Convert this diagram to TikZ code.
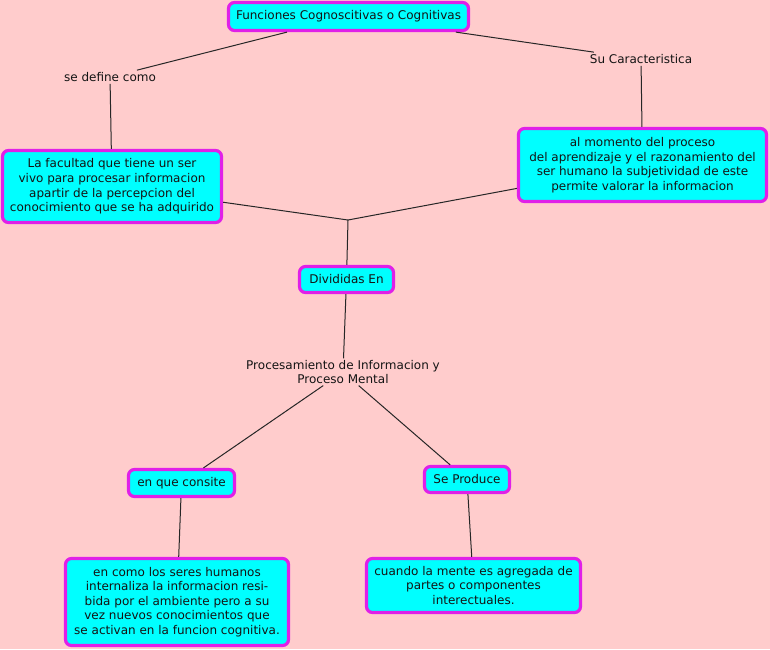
\documentclass[tikz,border=0pt]{standalone}
\usepackage{fontspec}
\setmainfont{DejaVu Sans}
\definecolor{bgpink}{RGB}{255,204,204}
\definecolor{boxfill}{RGB}{0,255,255}
\definecolor{boxedge}{RGB}{224,32,232}
\definecolor{txt}{RGB}{20,20,20}
\begin{document}
\begin{tikzpicture}[x=1pt,y=-1pt,
  box/.style={draw=boxedge,fill=boxfill,line width=3.2pt,rounded corners=6pt,
    align=center,inner sep=0pt,text=txt,font=\fontsize{12}{14.6}\selectfont},
  lbl/.style={align=center,inner sep=2pt,text=txt,font=\fontsize{12}{13.5}\selectfont},
  conn/.style={draw=black!85,line width=1pt}]
\fill[bgpink] (0,0) rectangle (770,649);
\useasboundingbox (0,0) rectangle (770,649);

\node[box,minimum width=240pt,minimum height=28pt] (title) at (348.5,16.5) {Funciones Cognoscitivas o Cognitivas};
\node[lbl] (def) at (110,77) {se define como};
\node[lbl] (car) at (641,59) {Su Caracteristica};
\node[box,minimum width=219pt,minimum height=72pt] (left) at (112,186.5)
  {La facultad que tiene un ser\\vivo para procesar informacion\\apartir de la percepcion del\\conocimiento que se ha adquirido};
\node[box,minimum width=248pt,minimum height=73pt] (right) at (642.5,165)
  {al momento del proceso\\del aprendizaje y el razonamiento del\\ser humano la subjetividad de este\\permite valorar la informacion};
\coordinate (j) at (348,220);
\node[box,minimum width=94pt,minimum height=26pt] (div) at (346.5,279.5) {Divididas En};
\node[lbl] (proc) at (343,372) {Procesamiento de Informacion y\\Proceso Mental};
\node[box,minimum width=106pt,minimum height=27pt] (cons) at (181.5,483) {en que consite};
\node[box,minimum width=85pt,minimum height=26pt] (prod) at (467,479.5) {Se Produce};
\node[box,minimum width=223pt,minimum height=87pt] (bl) at (177,602)
  {en como los seres humanos\\internaliza la informacion resi-\\bida por el ambiente pero a su\\vez nuevos conocimientos que\\se activan en la funcion cognitiva.};
\node[box,minimum width=214pt,minimum height=54pt] (br) at (473.5,585.5)
  {cuando la mente es agregada de\\partes o componentes\\interectuales.};

\draw[conn] (title) -- (def);
\draw[conn] (def) -- (left);
\draw[conn] (title) -- (car);
\draw[conn] (car) -- (right);
\draw[conn] (left) -- (j);
\draw[conn] (right) -- (j);
\draw[conn] (j) -- (div);
\draw[conn] (div) -- (proc);
\draw[conn] (proc) -- (cons);
\draw[conn] (proc) -- (prod);
\draw[conn] (cons) -- (bl);
\draw[conn] (prod) -- (br);
\end{tikzpicture}
\end{document}
